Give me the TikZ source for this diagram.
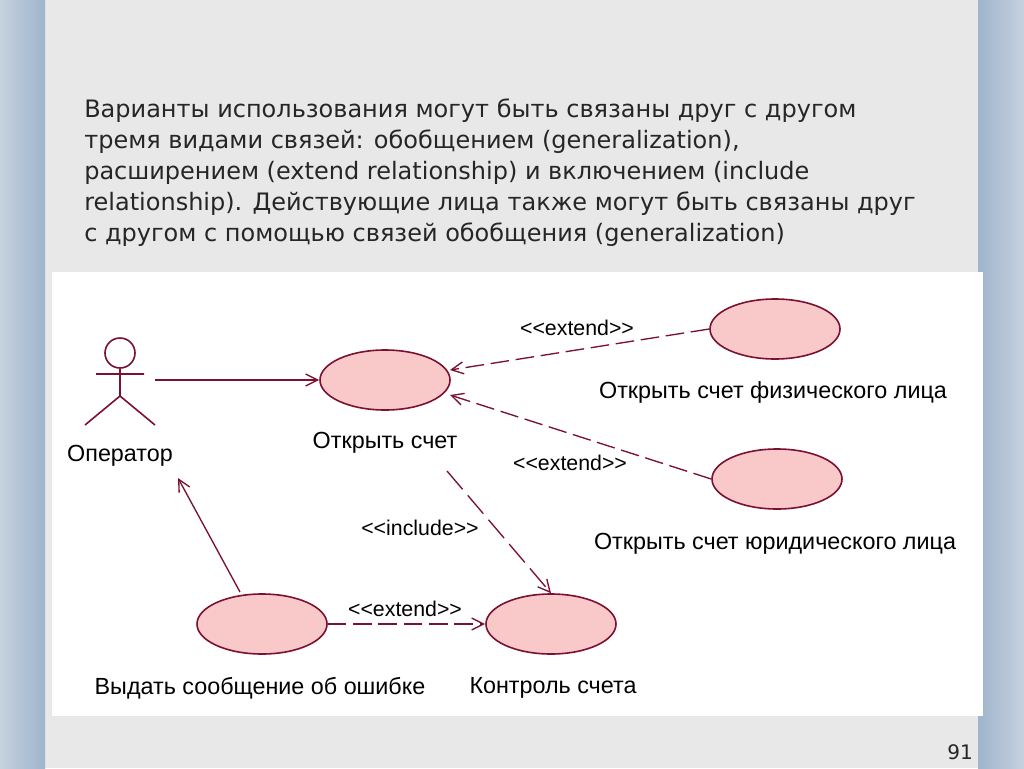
\documentclass[tikz,border=0pt]{standalone}
\usepackage{fontspec}
\setmainfont{DejaVu Sans}
\newfontfamily\diag{Liberation Sans}
\usetikzlibrary{arrows.meta,shapes.geometric}
\definecolor{uml}{HTML}{7B1030}
\definecolor{ucfill}{HTML}{F9C9C9}
\definecolor{bg}{HTML}{E8E8E8}
\definecolor{side}{HTML}{9FB4CB}
\begin{document}
\begin{tikzpicture}[x=0.75pt,y=-0.75pt,
  uc/.style={draw=uml,fill=ucfill,line width=1.2pt,ellipse,minimum width=130*0.75pt,minimum height=60*0.75pt,inner sep=0pt},
  lbl/.style={font=\diag\fontsize{17.5}{19}\selectfont,text=black},
  stereo/.style={font=\diag\fontsize{16}{17}\selectfont,text=black},
  conn/.style={draw=uml,line width=1pt,-{Straight Barb[length=9pt,width=9pt]}},
  dconn/.style={conn,dash pattern=on 14pt off 5pt},
  body/.style={font=\fontsize{18}{23.3}\selectfont,text=black!85}]
\useasboundingbox (0,0) rectangle (1024,768);
\fill[bg] (0,0) rectangle (1024,768);
\shade[left color=side!60!white,right color=side] (0,0) rectangle (45,768);
\shade[left color=side,right color=side!60!white] (978,0) rectangle (1024,768);
\fill[white] (52,272) rectangle (983,716);
\node[body,anchor=west,align=left,inner sep=0pt] (txt) at (84,173) {Варианты использования могут быть связаны друг с другом\\
тремя видами связей: обобщением (generalization),\\
расширением (extend relationship) и включением (include\\
relationship). Действующие лица также могут быть связаны друг\\
с другом с помощью связей обобщения (generalization)};
\node[body,font=\fontsize{15}{17}\selectfont] (pg) at (960,752) {91};
% actor
\node[draw=uml,line width=1.2pt,circle,minimum size=30*0.75pt,inner sep=0pt] (head) at (120,353) {};
\coordinate (hip) at (120,396);
\draw[uml,line width=1.2pt] (head.south) -- (hip) (96,374) -- (144,374) (hip) -- (85,425) (hip) -- (155,425);
\node[lbl] (op) at (120,456) {Оператор};
\coordinate (actR) at (155,380);
\coordinate (actB) at (178,478);
% use cases
\node[uc] (open) at (385,380) {};
\node[lbl] at (385,443) {Открыть счет};
\node[uc] (phys) at (775,329) {};
\node[lbl] at (773,392) {Открыть счет физического лица};
\node[uc] (jur) at (777,479) {};
\node[lbl] at (775,544) {Открыть счет юридического лица};
\node[uc] (err) at (262,624) {};
\node[lbl] at (260,688) {Выдать сообщение об ошибке};
\node[uc] (ctrl) at (551,624) {};
\node[lbl] at (553,688) {Контроль счета};
% connectors
\draw[conn] (actR) -- (open.west);
\draw[dconn] (phys.west) -- (450,370);
\node[stereo] at (577,328) {<<extend>>};
\draw[dconn] (jur.west) -- (450,395);
\node[stereo] at (570,463) {<<extend>>};
\draw[dconn,dash pattern=on 18pt off 6pt] (447,471) -- (ctrl.north);
\node[stereo] at (420,528) {<<include>>};
\draw[dconn] (err.east) -- (ctrl.west);
\node[stereo,fill=white,inner sep=1pt] at (405,609) {<<extend>>};
\draw[conn] (240,592) -- (actB);
\end{tikzpicture}
\end{document}
